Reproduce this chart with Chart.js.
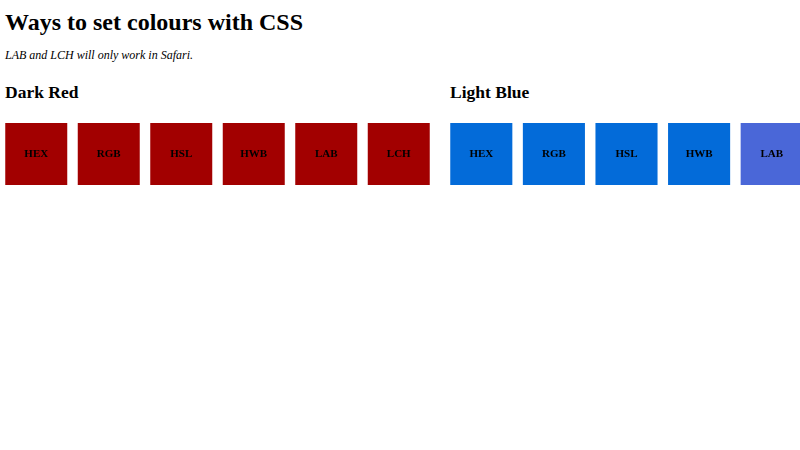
<!DOCTYPE html>
<html><head><meta charset="utf-8">
<script src="https://cdn.jsdelivr.net/npm/chart.js@4"></script>
<style>
body{margin:0;width:800px;height:450px;overflow:hidden;position:relative;font-family:"Liberation Serif","Times New Roman",serif;background:#fff}
.t{position:absolute;margin:0;white-space:nowrap}
canvas{position:absolute}
</style></head><body>
<div class="t" style="left:5px;top:9px;font-size:24px;font-weight:bold">Ways to set colours with CSS</div>
<div class="t" style="left:5px;top:48px;font-size:12px;font-style:italic">LAB and LCH will only work in Safari.</div>
<div class="t" style="left:5px;top:82px;font-size:17.5px;font-weight:bold">Dark Red</div>
<div class="t" style="left:450px;top:82px;font-size:17.5px;font-weight:bold">Light Blue</div>
<canvas id="c1" width="435" height="62" style="left:-0.25px;top:123px"></canvas>
<canvas id="c2" width="363" height="62" style="left:444.75px;top:123px"></canvas>
<script>
const redLabels=["HEX","RGB","HSL","HWB","LAB","LCH"];
const redValues=[1,1,1,1,1,1];
const redColors=["#a20000","#a20000","#a20000","#a20000","#a20000","#a20000"];
const blueLabels=["HEX","RGB","HSL","HWB","LAB"];
const blueValues=[1,1,1,1,1];
const blueColors=["#036bd9","#036bd9","#036bd9","#036bd9","#4a67d8"];
const labelPlugin={id:"lbl",afterDatasetsDraw(ch){const c=ch.ctx;const m=ch.getDatasetMeta(0);c.save();c.font="bold 11px 'Liberation Serif'";c.fillStyle="#000";c.textAlign="center";c.textBaseline="middle";m.data.forEach((b,i)=>{c.fillText(ch.data.labels[i],b.x,(b.y+b.base)/2);});c.restore();}};
function mk(id,labels,values,colors){new Chart(document.getElementById(id),{type:"bar",data:{labels:labels,datasets:[{data:values,backgroundColor:colors,barPercentage:62/72.5,categoryPercentage:1}]},options:{responsive:false,animation:false,layout:{padding:0},plugins:{legend:{display:false},tooltip:{enabled:false}},scales:{x:{display:false},y:{display:false,min:0,max:1}}},plugins:[labelPlugin]});}
mk("c1",redLabels,redValues,redColors);
mk("c2",blueLabels,blueValues,blueColors);
</script></body></html>
